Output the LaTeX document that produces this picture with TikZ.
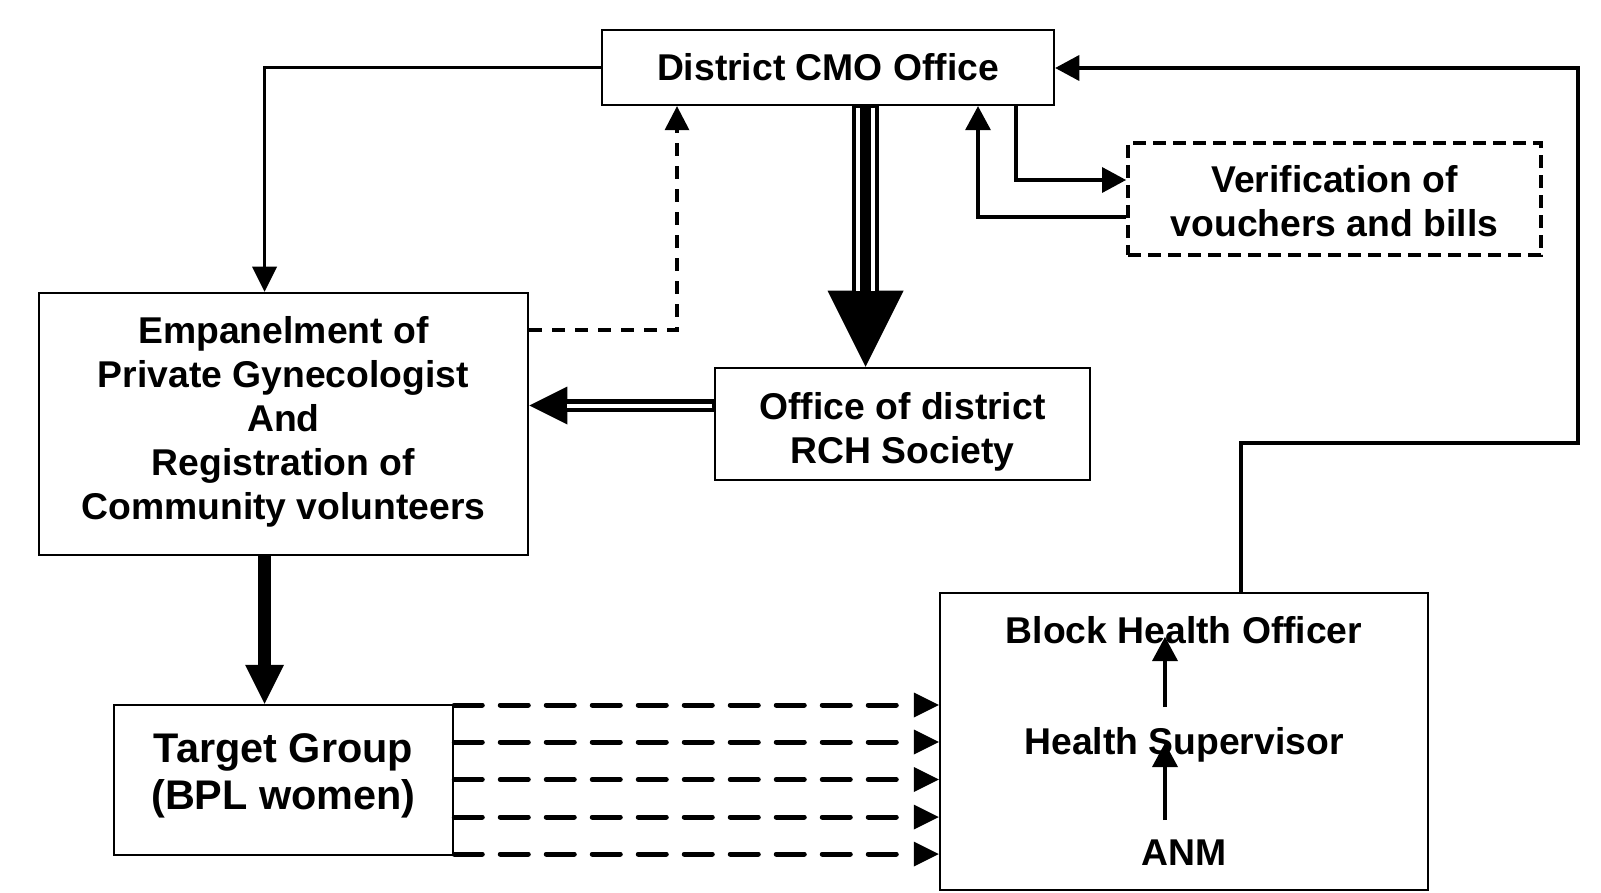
\documentclass[tikz,border=0pt]{standalone}
\usepackage{fontspec}
\setmainfont{Liberation Sans}
\usetikzlibrary{arrows.meta}
\begin{document}
\begin{tikzpicture}[x=0.5pt,y=-0.5pt,
  box/.style={draw, line width=1.25pt, align=center, inner sep=0pt, font=\fontsize{18.65pt}{22pt}\selectfont\bfseries},
  dashbox/.style={box, line width=2pt, dash pattern=on 6.5pt off 3.5pt},
  lbl/.style={inner sep=0pt, text height=13.4pt, text depth=0pt, font=\fontsize{18.65pt}{22pt}\selectfont\bfseries},
  thinarrow/.style={line width=1.2pt, -{Triangle[length=12.5pt,width=12.5pt,line width=0pt]}},
  medarrow/.style={line width=2pt, -{Triangle[length=12pt,width=13pt,line width=0pt]}},
  fbarrow/.style={line width=1.75pt, -{Triangle[length=12pt,width=13pt,line width=0pt]}},
  dasharrow/.style={line width=2.5pt, line cap=round, dash pattern=on 14pt off 9pt, -{Triangle[length=12.5pt,width=12.5pt,line width=0pt]}},
  updash/.style={line width=2pt, dash pattern=on 6.5pt off 5pt, -{Triangle[length=12pt,width=12.5pt,line width=0pt]}},
]
\useasboundingbox (0,0) rectangle (1601,893);

% boxes
\node[box, minimum width=226pt, minimum height=37.5pt] (cmo) at (828,67.5) {District CMO Office};
\node[dashbox, minimum width=206.5pt, minimum height=56pt] (ver) at (1334.5,199) {\rule{0pt}{16pt}Verification of\\vouchers and bills};
\node[box, minimum width=244.5pt, minimum height=131pt] (emp) at (283.5,424) {Empanelment of\\Private Gynecologist\\And\\Registration of\\Community volunteers\rule[-5.9pt]{0pt}{5.9pt}};
\node[box, minimum width=187.5pt, minimum height=56pt] (rch) at (902.5,424) {\rule{0pt}{21pt}Office of district\\RCH Society};
\node[box, minimum width=169.5pt, minimum height=75pt, font=\fontsize{20.7pt}{23.5pt}\selectfont\bfseries] (tg) at (283.5,780) {Target Group\\(BPL women)\rule[-8.9pt]{0pt}{8.9pt}};
\node[box, minimum width=244pt, minimum height=148.5pt] (bho) at (1184,741.5) {};
\node[lbl] (bhot) at (1184,630) {Block Health Officer};
\node[lbl] (hs) at (1184,741) {Health Supervisor};
\node[lbl] (anm) at (1184,852) {ANM};

% helper coordinates
\coordinate (lx) at (264.5,0);
\coordinate (d1) at (677,330);
\coordinate (v1) at (1016,180);
\coordinate (v2) at (978,217);
\coordinate (r1) at (1241,443);
\coordinate (r2) at (1578,68);
\coordinate (tx) at (865.5,0);
\coordinate (dy) at (0,405.5);

% connectors
\draw[thinarrow] (cmo.west) -| (emp.north -| lx);
\draw[updash] (emp.east |- d1) -| (cmo.south -| d1);
\draw[medarrow] (cmo.south -| v1) |- (ver.west |- v1);
\draw[medarrow] (ver.west |- v2) -| (cmo.south -| v2);
\draw[fbarrow] (bho.north -| r1) |- (r2 |- r1) -- (r2) -- (cmo.east |- r2);

% triple arrow CMO -> RCH
\draw[line width=13.5pt, -{Triangle[length=38pt,width=38pt,line width=0pt]}] (cmo.south -| tx) -- (rch.north -| tx);
\draw[white, line width=9.5pt, shorten <=0.7pt, shorten >=38pt] (cmo.south -| tx) -- (rch.north -| tx);
\draw[line width=5.5pt, shorten <=0.7pt, shorten >=38pt] (cmo.south -| tx) -- (rch.north -| tx);

% double arrow RCH -> Empanelment
\draw[line width=6.5pt, -{Triangle[length=19pt,width=19pt,line width=0pt]}] (rch.west |- dy) -- (emp.east |- dy);
\draw[white, line width=2pt, shorten <=0.7pt, shorten >=19pt] (rch.west |- dy) -- (emp.east |- dy);

% thick arrow Empanelment -> Target
\draw[line width=6.5pt, -{Triangle[length=19.5pt,width=19.5pt,line width=0pt]}] (emp.south -| lx) -- (tg.north -| lx);

% dashed arrows Target -> BHO
\foreach \yy in {705,742,779.5,817,854} {
  \draw[dasharrow] (tg.east |- 0,\yy) -- (bho.west |- 0,\yy);
}

% inner arrows
\draw[medarrow] ([xshift=-9.5pt,yshift=16pt]anm.center) -- ([xshift=-9.5pt,yshift=-1pt]hs.center);
\draw[medarrow] ([xshift=-9.5pt,yshift=17pt]hs.center) -- ([xshift=-9.5pt,yshift=-3.5pt]bhot.center);
\end{tikzpicture}
\end{document}
